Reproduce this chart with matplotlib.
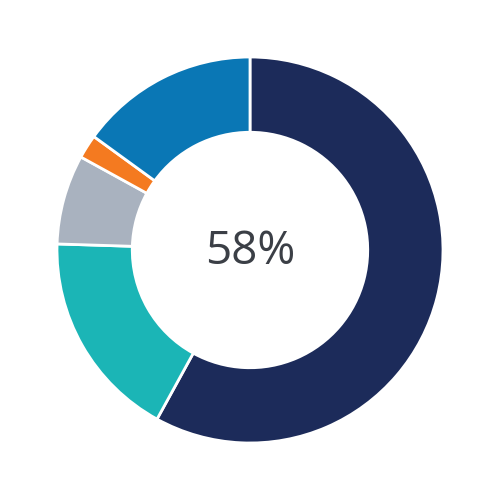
import matplotlib.pyplot as plt

# ========== Data ==========
labels = ['Navy', 'Teal', 'Gray', 'Orange', 'Blue']
values = [58, 17.5, 7.5, 2, 15]
colors = ['#1c2b5a', '#1bb5b6', '#a9b2bf', '#f47a20', '#0a77b5']
center_label = '58%'

fig = plt.figure(figsize=(5, 5), dpi=100)
ax = fig.add_axes([0, 0, 1, 1])

ax.pie(values, colors=colors, startangle=90, counterclock=False,
       radius=1.0,
       wedgeprops=dict(width=0.39, edgecolor='white', linewidth=2))

ax.text(0, -0.01, center_label, ha='center', va='center',
        fontsize=33, color='#3b3f46', family=['Open Sans', 'DejaVu Sans'])

lim = 250 / 193
ax.set_xlim(-lim, lim)
ax.set_ylim(-lim, lim)
ax.set_aspect('equal')
ax.axis('off')

plt.savefig('out.png', dpi=100, facecolor='white')
